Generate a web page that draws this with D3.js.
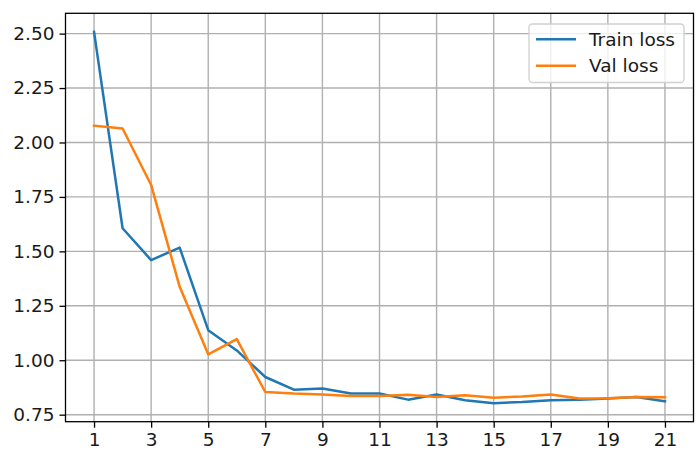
<!DOCTYPE html>
<html>
<head>
<meta charset="utf-8">
<script src="https://cdn.jsdelivr.net/npm/d3@7"></script>
<style>
  html, body { margin: 0; padding: 0; background: #fff; }
  text { font-family: "DejaVu Sans", sans-serif; }
</style>
</head>
<body>
<div id="chart"></div>
<script>
// epochs and loss values
const epochs = d3.range(1, 22);
const trainLoss = [2.508, 1.606, 1.460, 1.517, 1.138, 1.045, 0.923, 0.865, 0.870, 0.847, 0.847,
                   0.819, 0.843, 0.816, 0.803, 0.808, 0.816, 0.819, 0.824, 0.831, 0.811];
const valLoss = [2.077, 2.064, 1.805, 1.337, 1.027, 1.097, 0.854, 0.847, 0.843, 0.836, 0.836,
                 0.842, 0.831, 0.839, 0.828, 0.834, 0.843, 0.824, 0.826, 0.831, 0.830];
const xTicks = [1, 3, 5, 7, 9, 11, 13, 15, 17, 19, 21];
const yTicks = [0.75, 1.00, 1.25, 1.50, 1.75, 2.00, 2.25, 2.50];

const series = [
  { name: "Train loss", values: trainLoss, color: "#1f77b4" },
  { name: "Val loss", values: valLoss, color: "#ff7f0e" }
];

const width = 700, height = 463;
const margin = { top: 13.3, right: 6.5, bottom: 41.3, left: 65.5 };
const fontSize = 18.5;

const svg = d3.select("#chart").append("svg")
  .attr("width", width)
  .attr("height", height);

// matplotlib-like 5% padding on both axes
const xExt = d3.extent(epochs);
const xPad = (xExt[1] - xExt[0]) * 0.05;
const allY = trainLoss.concat(valLoss);
const yExt = d3.extent(allY);
const yPad = (yExt[1] - yExt[0]) * 0.05;

const x = d3.scaleLinear()
  .domain([xExt[0] - xPad, xExt[1] + xPad])
  .range([margin.left, width - margin.right]);
const y = d3.scaleLinear()
  .domain([yExt[0] - yPad, yExt[1] + yPad])
  .range([height - margin.bottom, margin.top]);

// grid
const grid = svg.append("g").attr("stroke", "#b0b0b0").attr("stroke-width", 1.4);
grid.selectAll("line.gx").data(xTicks).join("line")
  .attr("class", "gx")
  .attr("x1", d => x(d)).attr("x2", d => x(d))
  .attr("y1", margin.top).attr("y2", height - margin.bottom);
grid.selectAll("line.gy").data(yTicks).join("line")
  .attr("class", "gy")
  .attr("x1", margin.left).attr("x2", width - margin.right)
  .attr("y1", d => y(d)).attr("y2", d => y(d));

// lines
const line = d3.line()
  .x((d, i) => x(epochs[i]))
  .y(d => y(d));

svg.append("g").selectAll("path")
  .data(series)
  .join("path")
  .attr("fill", "none")
  .attr("stroke", d => d.color)
  .attr("stroke-width", 2.5)
  .attr("stroke-linejoin", "round")
  .attr("stroke-linecap", "square")
  .attr("d", d => line(d.values));

// axes
const xAxis = svg.append("g")
  .attr("transform", `translate(0,${height - margin.bottom})`)
  .call(d3.axisBottom(x).tickValues(xTicks).tickSize(6).tickPadding(5).tickFormat(d3.format("d")));
const yAxis = svg.append("g")
  .attr("transform", `translate(${margin.left},0)`)
  .call(d3.axisLeft(y).tickValues(yTicks).tickSize(6).tickPadding(5).tickFormat(d3.format(".2f")));

[xAxis, yAxis].forEach(a => {
  a.select(".domain").remove();
  a.selectAll(".tick line").attr("stroke", "#000").attr("stroke-width", 1.3);
  a.selectAll(".tick text").attr("fill", "#1a1a1a").attr("font-size", fontSize)
    .attr("font-family", "DejaVu Sans, sans-serif");
});

// frame
svg.append("rect")
  .attr("x", margin.left).attr("y", margin.top)
  .attr("width", width - margin.left - margin.right)
  .attr("height", height - margin.top - margin.bottom)
  .attr("fill", "none")
  .attr("stroke", "#000")
  .attr("stroke-width", 1.3);

// legend
const legend = svg.append("g").attr("transform", "translate(529,24)");
legend.append("rect")
  .attr("width", 155).attr("height", 58.5)
  .attr("rx", 3.5)
  .attr("fill", "#fff").attr("fill-opacity", 0.8)
  .attr("stroke", "#d0d0d0").attr("stroke-width", 1.3);
const item = legend.selectAll("g.item").data(series).join("g")
  .attr("class", "item")
  .attr("transform", (d, i) => `translate(0,${15.3 + i * 26.4})`);
item.append("line")
  .attr("x1", 7).attr("x2", 47)
  .attr("stroke", d => d.color)
  .attr("stroke-width", 2.5);
item.append("text")
  .attr("x", 60).attr("dy", "0.36em")
  .attr("font-size", fontSize)
  .attr("fill", "#1a1a1a")
  .text(d => d.name);
</script>
</body>
</html>
